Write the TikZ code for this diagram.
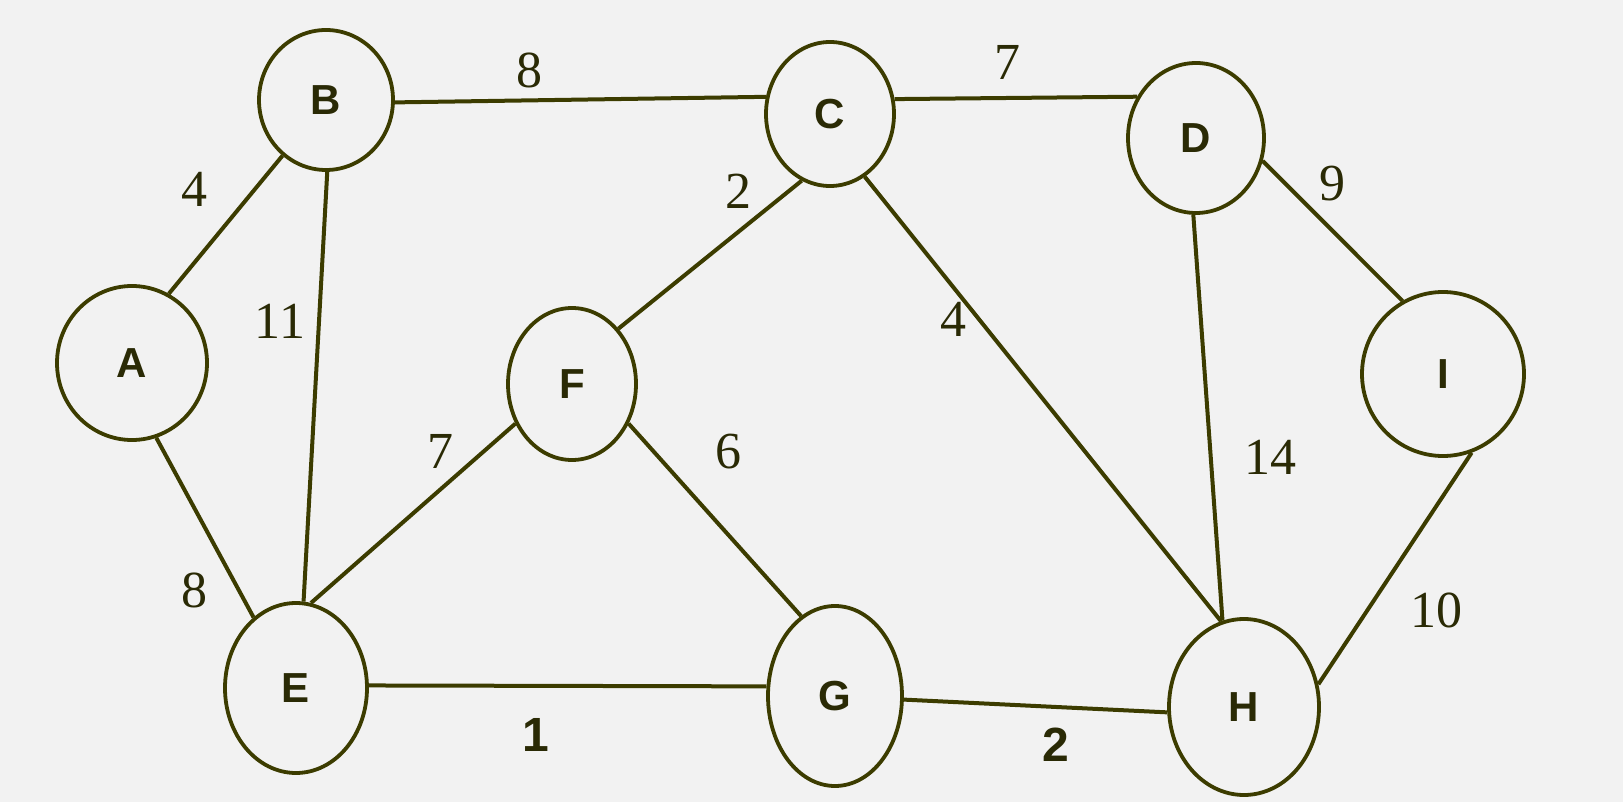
\documentclass[tikz,border=0pt]{standalone}
\usepackage{fontspec}
\setmainfont{Liberation Serif}
\newfontfamily\nodefont{Liberation Sans}
\usetikzlibrary{shapes.geometric}
\definecolor{bgc}{HTML}{F2F2F2}
\definecolor{olive}{HTML}{3C3C00}
\definecolor{txt}{HTML}{2A2A05}
\tikzset{
  vtx/.style={ellipse, draw=olive, line width=1.9pt, inner sep=0pt,
    font=\nodefont\bfseries\fontsize{21}{21}\selectfont, text=txt},
  edg/.style={draw=olive, line width=2pt},
  wlab/.style={font=\fontsize{26}{26}\selectfont, text=txt, inner sep=0pt},
  blab/.style={font=\nodefont\bfseries\fontsize{24}{24}\selectfont, text=txt, inner sep=0pt}
}
\begin{document}
\begin{tikzpicture}[x=0.5pt,y=-0.5pt]
\fill[bgc] (0,0) rectangle (1623,802);
\useasboundingbox (0,0) rectangle (1623,802);
% nodes
\node[vtx, minimum width=75pt, minimum height=77pt] (A) at (132,363) {A};
\node[vtx, minimum width=67pt, minimum height=70pt] (B) at (326,100) {B};
\node[vtx, minimum width=64pt, minimum height=72pt] (C) at (830,114) {C};
\node[vtx, minimum width=68pt, minimum height=75pt] (D) at (1196,138) {D};
\node[vtx, minimum width=81pt, minimum height=82pt] (I) at (1443,374) {I};
\node[vtx, minimum width=64pt, minimum height=76pt] (F) at (572,384) {F};
\node[vtx, minimum width=71pt, minimum height=85pt] (E) at (296,688) {E};
\node[vtx, minimum width=67pt, minimum height=90pt] (G) at (835,696) {G};
\node[vtx, minimum width=75pt, minimum height=88pt] (H) at (1244,707) {H};
% edges
\draw[edg] (A.62) -- (B.232);
\draw[edg] (A.-72) -- (E.121);
\draw[edg] (B.-2) -- (C.165);
\draw[edg] (B.-89) -- (E.85);
\draw[edg] (C.13) -- (D.145);
\draw[edg] (C.247) -- (F.50);
\draw[edg] (C.-61) -- (H.105);
\draw[edg] (D.-19) -- (I.119);
\draw[edg] (D.-92) -- (H.104);
\draw[edg] (I.-70) -- (H.17);
\draw[edg] (F.215) -- (E.80);
\draw[edg] (F.-35) -- (G.113);
\draw[edg] (E.2) -- (G.172);
\draw[edg] (G.-3) -- (H.184);
% weights
\node[wlab] (wBC) at (529,70) {8};
\node[wlab] (wCD) at (1007,62) {7};
\node[wlab] (wAB) at (194,189) {4};
\node[wlab] (wBE) at (280,321) {11};
\node[wlab] (wCF) at (738,191) {2};
\node[wlab] (wCH) at (953,319) {4};
\node[wlab] (wDI) at (1332,184) {9};
\node[wlab] (wDH) at (1270,457) {14};
\node[wlab] (wIH) at (1436,610) {10};
\node[wlab] (wEF) at (440,451) {7};
\node[wlab] (wFG) at (728,452) {6};
\node[wlab] (wAE) at (194,590) {8};
\node[blab] (wEG) at (536,735) {1};
\node[blab] (wGH) at (1056,745) {2};
\end{tikzpicture}
\end{document}
